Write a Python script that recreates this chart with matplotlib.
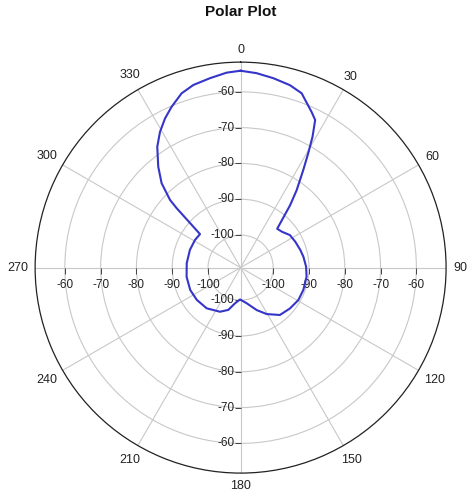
import numpy as np
import matplotlib

matplotlib.use("Agg")
import matplotlib.pyplot as plt
from matplotlib.markers import TICKLEFT, TICKDOWN

# pattern: bearing (deg, clockwise from north) and level (dB)
angle_deg = [0, 4.7, 9.8, 15.1, 19.3, 24.5, 26.8, 28.8, 30.6, 32.7,
             35.9, 38.4, 43.3, 49.1, 56.6, 64.7, 73.6, 80.1, 89.2, 97.8,
             109.7, 119.3, 129.5, 140.3, 150.6, 159.2, 170.3, 181.0, 188.9, 196.2,
             205.0, 219.8, 233.6, 246.1, 260.4, 274.6, 289.2, 301.2, 309.5, 311.5,
             312.9, 313.8, 316.9, 320.8, 325.4, 329.3, 333.1, 336.8, 341.3, 345.5,
             350.8, 355.9, 360]
level_db = [-54.1, -54.6, -55.4, -56.3, -57.5, -61.3, -62.9, -67.4, -72.0, -76.7,
            -82.4, -86.8, -94.2, -93.8, -92.6, -92.2, -91.7, -91.3, -90.8, -90.5,
            -90.5, -90.6, -91.2, -91.9, -94.2, -96.4, -99.0, -100.2, -99.0, -96.8,
            -95.5, -94.3, -93.9, -93.7, -93.8, -94.0, -94.1, -94.2, -94.4, -90.0,
            -84.7, -81.8, -76.8, -72.7, -68.1, -65.0, -62.4, -60.2, -57.7, -56.4,
            -55.5, -54.5, -54.1]

ring_levels = [-100, -90, -80, -70, -60]
angle_ticks = list(range(0, 360, 30))
title = "Polar Plot"

r_min, r_max = -109.1, -51.7

plt.rcParams["font.family"] = ["Liberation Sans", "DejaVu Sans"]

fig = plt.figure(figsize=(4.74, 4.99), dpi=100)
ax = fig.add_axes([0.0741, 0.0519, 0.867, 0.8236], projection="polar")
ax.set_theta_zero_location("N")
ax.set_theta_direction(-1)
ax.set_rlim(r_min, r_max)
ax.set_xticks(np.deg2rad(angle_ticks))
ax.set_xticklabels([])
ax.set_yticks(ring_levels)
ax.set_yticklabels([])
ax.grid(True, color="#c8c8c8", linewidth=0.8)
ax.spines["polar"].set_color("#222222")
ax.spines["polar"].set_linewidth(0.9)
ax.tick_params(axis="x", direction="out", length=4, width=0.8, color="#333333")
ax.tick_params(axis="y", length=0)

ax.plot(np.deg2rad(angle_deg), level_db, color="#3535c8", linewidth=1.5, zorder=5)

# radial scale repeated on the four half axes
tick_style = dict(linestyle="none", markersize=4, markeredgewidth=0.7,
                  color="#444444", zorder=4)
for th in (0, 180):
    t = np.deg2rad(th)
    ax.plot([t] * len(ring_levels), ring_levels, marker=TICKLEFT, **tick_style)
    for lv in ring_levels:
        ax.annotate(str(lv), (t, lv), xytext=(-4.5, 0), textcoords="offset points",
                    ha="right", va="center", fontsize=8.5, color="#222222",
                    annotation_clip=False)
for th in (90, 270):
    t = np.deg2rad(th)
    ax.plot([t] * len(ring_levels), ring_levels, marker=TICKDOWN, **tick_style)
    for lv in ring_levels:
        ax.annotate(str(lv), (t, lv), xytext=(0, -8.2), textcoords="offset points",
                    ha="center", va="top", fontsize=8.5, color="#222222",
                    annotation_clip=False)

# angle labels outside the rim, offset so the text edge sits a fixed gap away
for a in angle_ticks:
    t = np.deg2rad(a)
    s, c = np.sin(t), np.cos(t)
    w, h = 6.3 * len(str(a)), 9.0
    d = (8 + abs(s) * w / 2 + abs(c) * h / 2) * 0.72
    ax.annotate(str(a), (t, r_max), xytext=(s * d, c * d), textcoords="offset points",
                ha="center", va="center", fontsize=9, color="#222222",
                annotation_clip=False)

fig.text(241 / 474, 1 - 11.7 / 499, title, ha="center", va="center",
         fontsize=11, fontweight="bold", color="#111111")

fig.savefig("out.png", dpi=100)
